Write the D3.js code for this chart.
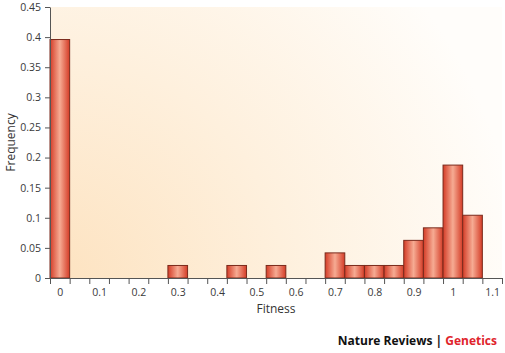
<!DOCTYPE html>
<html>
<head>
<meta charset="utf-8">
<script src="https://cdn.jsdelivr.net/npm/d3@7"></script>
<style>
  body { margin: 0; background: #fff; }
  text { font-family: "Open Sans", "Noto Sans", sans-serif; }
  .axis path, .axis line { stroke: #555; }
  .axis text { font-size: 10.5px; fill: #3a3a3a; }
</style>
</head>
<body>
<div id="chart"></div>
<script>
// histogram of fitness values (bin centres, width 0.05)
const binCenters = [0, 0.3, 0.45, 0.55, 0.7, 0.75, 0.8, 0.85, 0.9, 0.95, 1.0, 1.05];
const frequencies = [0.396, 0.0208, 0.0208, 0.0208, 0.0417, 0.0208, 0.0208, 0.0208, 0.0625, 0.0833, 0.1875, 0.1042];
const xLabels = [0, 0.1, 0.2, 0.3, 0.4, 0.5, 0.6, 0.7, 0.8, 0.9, 1, 1.1];
const yTicks = [0, 0.05, 0.1, 0.15, 0.2, 0.25, 0.3, 0.35, 0.4, 0.45];
const binWidth = 0.05;

const width = 505;
const height = 353;

const svg = d3.select("#chart")
    .append("svg")
    .attr("width", width)
    .attr("height", height);

const xScale = d3.scaleLinear()
    .domain([-0.025, 1.125])
    .range([50, 502]);

const yScale = d3.scaleLinear()
    .domain([0, 0.45])
    .range([278, 7]);

const defs = svg.append("defs");

const bg = defs.append("radialGradient")
    .attr("id", "bg")
    .attr("gradientUnits", "userSpaceOnUse")
    .attr("cx", 50).attr("cy", 290).attr("r", 470);
bg.append("stop").attr("offset", "0%").attr("stop-color", "#fde2bf");
bg.append("stop").attr("offset", "50%").attr("stop-color", "#fef0dd");
bg.append("stop").attr("offset", "100%").attr("stop-color", "#fffdfa");

const barGrad = defs.append("linearGradient")
    .attr("id", "bar")
    .attr("x1", "0%").attr("x2", "100%")
    .attr("y1", "0%").attr("y2", "0%");
barGrad.append("stop").attr("offset", "0%").attr("stop-color", "#d43c27");
barGrad.append("stop").attr("offset", "50%").attr("stop-color", "#f6ab93");
barGrad.append("stop").attr("offset", "100%").attr("stop-color", "#d43c27");

// plot background
svg.append("rect")
    .attr("x", xScale.range()[0])
    .attr("y", yScale(0.45))
    .attr("width", xScale.range()[1] - xScale.range()[0])
    .attr("height", yScale(0) - yScale(0.45))
    .attr("fill", "url(#bg)");

svg.selectAll("rect.bar")
    .data(binCenters)
    .enter()
    .append("rect")
    .attr("class", "bar")
    .attr("x", d => xScale(d - binWidth / 2))
    .attr("y", (d, i) => yScale(frequencies[i]))
    .attr("width", d => xScale(d + binWidth / 2) - xScale(d - binWidth / 2))
    .attr("height", (d, i) => yScale(0) - yScale(frequencies[i]))
    .attr("fill", "url(#bar)")
    .attr("stroke", "#7a2a1c")
    .attr("stroke-width", 1);

// x axis: ticks on bin edges, labels on centres
const edges = d3.range(0, 24).map(i => -0.025 + i * binWidth);

svg.append("g")
    .attr("class", "axis")
    .attr("transform", "translate(0," + yScale(0) + ")")
    .call(d3.axisBottom(xScale).tickValues(edges).tickFormat("").tickSize(6).tickSizeOuter(0));

svg.append("g")
    .attr("class", "axis")
    .attr("transform", "translate(0," + yScale(0) + ")")
    .call(d3.axisBottom(xScale).tickValues(xLabels).tickFormat(d3.format("")).tickSize(0).tickPadding(11))
    .call(g => g.select(".domain").remove());

svg.append("g")
    .attr("class", "axis")
    .attr("transform", "translate(" + xScale.range()[0] + ",0)")
    .call(d3.axisLeft(yScale).tickValues(yTicks).tickFormat(d3.format("")).tickSize(5).tickSizeOuter(0).tickPadding(4));

svg.append("text")
    .attr("transform", "translate(15," + (yScale(0.225)) + ") rotate(-90)")
    .attr("text-anchor", "middle")
    .attr("font-size", 12)
    .attr("fill", "#333")
    .text("Frequency");

svg.append("text")
    .attr("x", xScale(0.55))
    .attr("y", 313)
    .attr("text-anchor", "middle")
    .attr("font-size", 12)
    .attr("fill", "#333")
    .text("Fitness");

const credit = svg.append("text")
    .attr("x", 497)
    .attr("y", 345)
    .attr("text-anchor", "end")
    .attr("font-size", 12)
    .attr("font-weight", "bold");
credit.append("tspan").attr("fill", "#111").text("Nature Reviews | ");
credit.append("tspan").attr("fill", "#e0242c").text("Genetics");
</script>
</body>
</html>
